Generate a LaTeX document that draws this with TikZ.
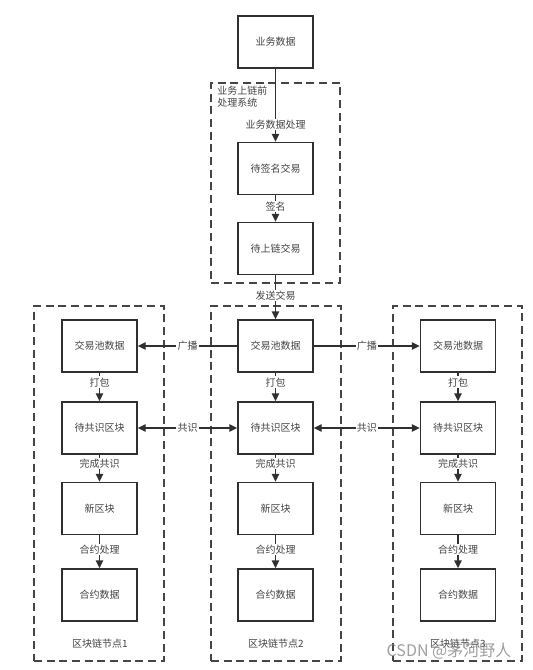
\documentclass[tikz,border=0pt]{standalone}
\usepackage{fontspec}
\setmainfont{Noto Sans CJK SC}
\usetikzlibrary{arrows.meta}
\definecolor{txt}{HTML}{444444}
\definecolor{ln}{HTML}{303030}
\tikzset{
  box/.style={draw=ln, line width=1.1pt, fill=white, minimum width=56.25pt, minimum height=39pt, inner sep=0pt, text=txt, font=\fontsize{7.5}{9}\selectfont},
  grp/.style={draw=ln!90, line width=1.1pt, dash pattern=on 6pt off 3.5pt, inner sep=0pt},
  arr/.style={draw=ln, line width=1.1pt, -{Triangle[length=6pt,width=5.5pt]}},
  darr/.style={draw=ln, line width=1.1pt, {Triangle[length=6pt,width=5.5pt]}-{Triangle[length=6pt,width=5.5pt]}},
  lbl/.style={fill=white, inner sep=0.8pt, text=txt, font=\fontsize{7.5}{9}\selectfont},
  gtxt/.style={text=txt, font=\fontsize{7.5}{9}\selectfont, inner sep=0pt},
}
\begin{document}
\begin{tikzpicture}[x=0.75pt,y=-0.75pt]
\useasboundingbox[fill=white] (0,0) rectangle (532,670);
% group frames
\node[grp, minimum width=96.75pt, minimum height=150pt] (gpre) at (275.5,183) {};
\node[grp, minimum width=97.5pt, minimum height=266.25pt] (g1) at (99,483.5) {};
\node[grp, minimum width=97.5pt, minimum height=266.25pt] (g2) at (276,483.5) {};
\node[grp, minimum width=96.75pt, minimum height=266.25pt] (g3) at (457.5,483.5) {};
\node[gtxt, anchor=north west, align=left] (gpreL) at (217,86) {业务上链前\\处理系统};
\node[gtxt] (g1L) at (100,644) {区块链节点1};
\node[gtxt] (g2L) at (276,644) {区块链节点2};
\node[gtxt] (g3L) at (458,644) {区块链节点3};
% top chain
\node[box] (biz) at (275.5,42) {业务数据};
\node[box] (sign) at (275.5,168.5) {待签名交易};
\node[box] (up) at (275.5,248.5) {待上链交易};
% node columns
\foreach \n/\x in {a/99.5, b/275.5, c/458} {
  \node[box] (\n1) at (\x,346) {交易池数据};
  \node[box] (\n2) at (\x,428) {待共识区块};
  \node[box] (\n3) at (\x,508.5) {新区块};
  \node[box] (\n4) at (\x,595) {合约数据};
  \draw[arr] (\n1) -- node[lbl, pos=0.33] {打包} (\n2);
  \draw[arr] (\n2) -- node[lbl, pos=0.32] {完成共识} (\n3);
  \draw[arr] (\n3) -- node[lbl, pos=0.43] {合约处理} (\n4);
}
\draw[arr] (biz) -- node[lbl, pos=0.76] {业务数据处理} (sign);
\draw[arr] (sign) -- node[lbl, pos=0.43] {签名} (up);
\draw[arr] (up) -- node[lbl, pos=0.46] {发送交易} (b1);
\draw[arr] (b1) -- node[lbl] {广播} (a1);
\draw[arr] (b1) -- node[lbl] {广播} (c1);
\draw[darr] (b2) -- node[lbl] {共识} (a2);
\draw[darr] (b2) -- node[lbl] {共识} (c2);
% watermark
\node[text=gray, opacity=0.75, font=\fontsize{12}{14}\selectfont, inner sep=0pt] (wm) at (449,651) {CSDN @茅河野人};
\end{tikzpicture}
\end{document}
